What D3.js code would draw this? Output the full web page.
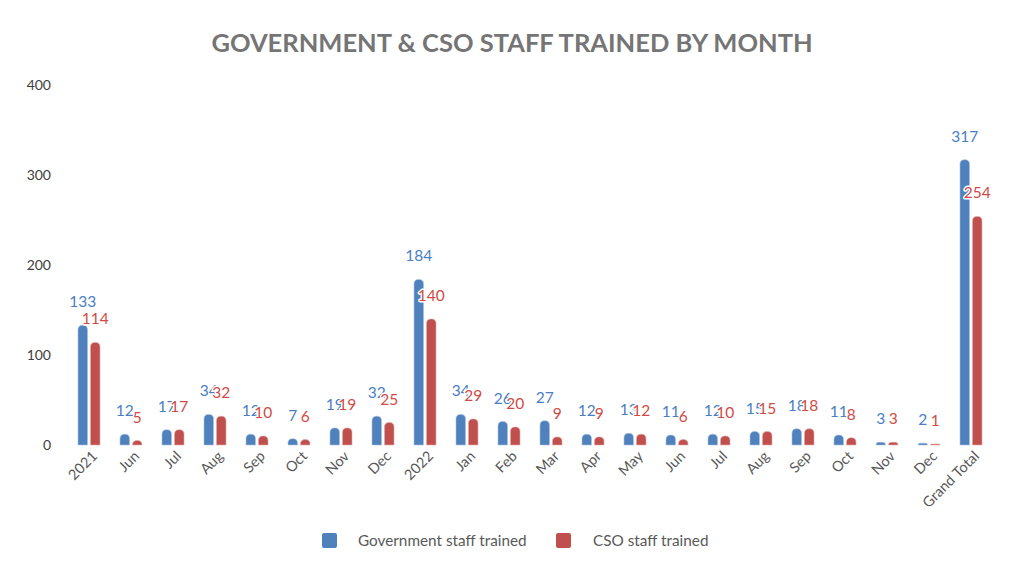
<!DOCTYPE html>
<html><head><meta charset="utf-8">
<script src="https://cdn.jsdelivr.net/npm/d3@7"></script>
<style>
body{margin:0;background:#fff;}
svg{display:block;}
</style></head>
<body>
<svg id="chart" width="1024" height="580"></svg>
<script>
const categories = ["2021","Jun","Jul","Aug","Sep","Oct","Nov","Dec","2022","Jan","Feb","Mar","Apr","May","Jun","Jul","Aug","Sep","Oct","Nov","Dec","Grand Total"];
const govValues = [133,12,17,34,12,7,19,32,184,34,26,27,12,13,11,12,15,18,11,3,2,317];
const csoValues = [114,5,17,32,10,6,19,25,140,29,20,9,9,12,6,10,15,18,8,3,1,254];
const seriesNames = ["Government staff trained","CSO staff trained"];
const yTicks = [0,100,200,300,400];
const colors = ["#4f81bd","#c0504d"];
const labelColors = ["#4a7ec4","#cf4b48"];

const svg = d3.select("#chart");
const font = "Lato, 'Open Sans', sans-serif";

const x = d3.scaleBand().domain(d3.range(categories.length)).range([68, 992]).padding(0);
const y = d3.scaleLinear().domain([0,400]).range([445, 85]);
const barW = 9.5, gap = 3;

// title
svg.append("text").attr("x", 512).attr("y", 52).attr("text-anchor","middle")
  .attr("font-family", font).attr("font-weight","bold").attr("font-size", 25.5)
  .attr("fill","#757575").text("GOVERNMENT & CSO STAFF TRAINED BY MONTH");

// y axis
const yAxis = d3.axisLeft(y).tickValues(yTicks).tickSize(0).tickPadding(0);
const gy = svg.append("g").attr("transform","translate(51,0)").call(yAxis);
gy.select(".domain").remove();
gy.selectAll("text").attr("font-family", font).attr("font-size", 14).attr("fill","#404040");

// x axis labels
const xAxis = d3.axisBottom(x).tickFormat(i => categories[i]).tickSize(0);
const gx = svg.append("g").attr("transform","translate(0,445)").call(xAxis);
gx.select(".domain").remove();
gx.selectAll("text").attr("font-family", font).attr("font-size", 14.5).attr("fill","#595959")
  .attr("text-anchor","end").attr("dy", null)
  .attr("transform","translate(7,10) rotate(-45)");

const series = [govValues, csoValues];
function barPath(x0, w, yTop, yBase){
  const h = yBase - yTop;
  const r = Math.min(w/2, h, 4.5);
  return `M${x0},${yBase} V${yTop + r} Q${x0},${yTop} ${x0 + r},${yTop} H${x0 + w - r} Q${x0 + w},${yTop} ${x0 + w},${yTop + r} V${yBase} Z`;
}
function offs(s){ return s === 0 ? -(gap/2 + barW) : gap/2; }

series.forEach((vals, s) => {
  svg.append("g").selectAll("path").data(vals).join("path")
    .attr("d", (d,i) => {
      const cx = x(i) + x.bandwidth()/2;
      return barPath(cx + offs(s), barW, y(d), y(0));
    })
    .attr("fill", colors[s])
    .attr("stroke", s === 0 ? "#a9c0e0" : "#e0a8a6").attr("stroke-width", 0.6);
});

series.forEach((vals, s) => {
  svg.append("g").selectAll("text").data(vals).join("text")
    .attr("x", (d,i) => x(i) + x.bandwidth()/2 + offs(s) + barW/2)
    .attr("y", d => y(d) - 18)
    .attr("text-anchor","middle")
    .attr("font-family", font).attr("font-size", 15.5)
    .attr("fill", labelColors[s])
    .attr("stroke","#fff").attr("stroke-width", 3).attr("paint-order","stroke")
    .attr("stroke-linejoin","round")
    .text(d => d);
});

// legend
const leg = svg.append("g");
const legItems = [{x:322, tx:358},{x:556, tx:593}];
seriesNames.forEach((n, s) => {
  leg.append("rect").attr("x", legItems[s].x).attr("y", 533).attr("width", 15).attr("height", 15)
    .attr("rx", 2).attr("fill", colors[s]);
  leg.append("text").attr("x", legItems[s].tx).attr("y", 546)
    .attr("font-family", font).attr("font-size", 15.3).attr("fill","#595959").text(n);
});
</script>
</body></html>
